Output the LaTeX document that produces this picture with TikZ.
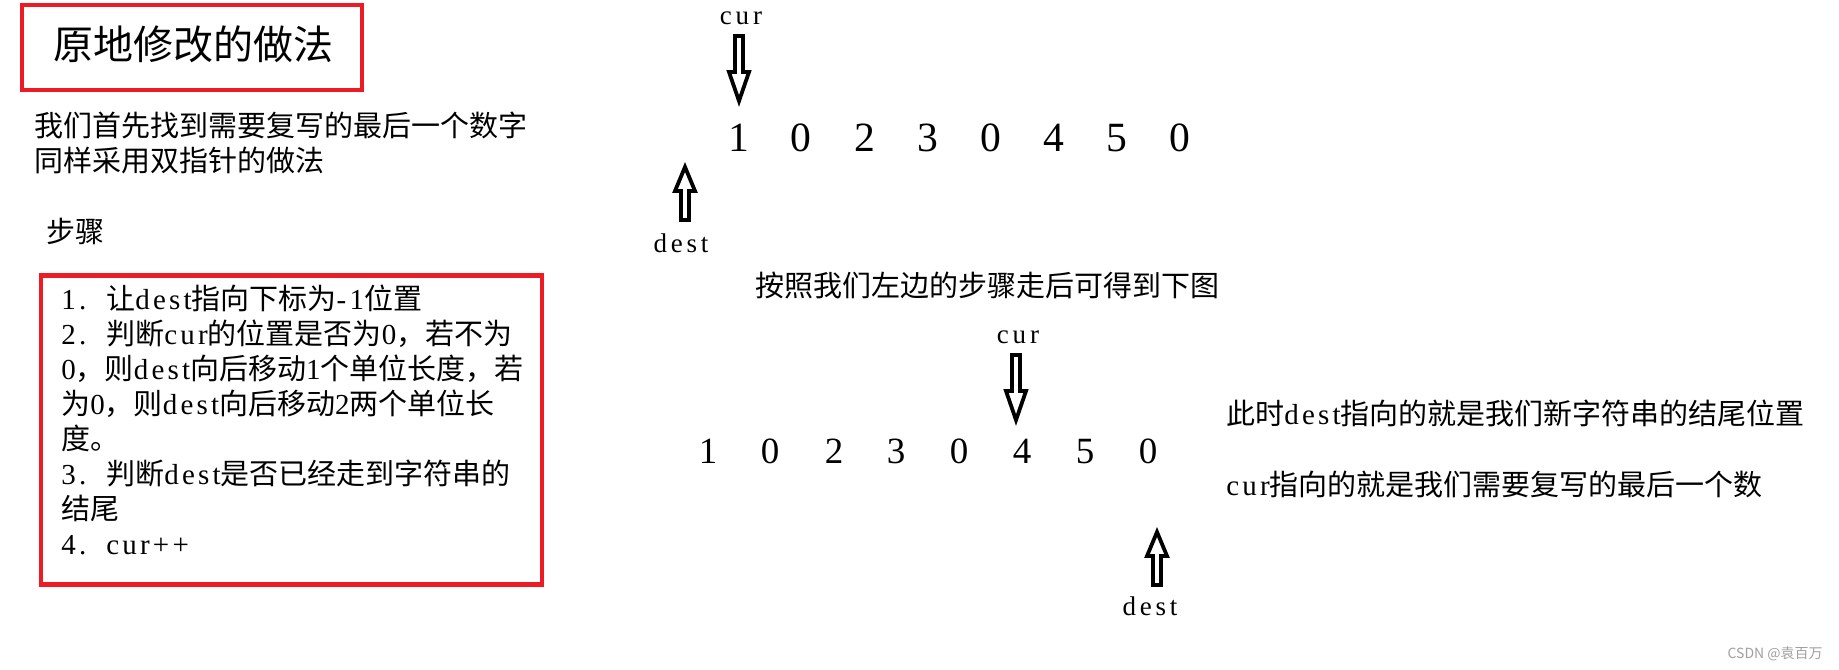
\documentclass[tikz,border=0pt]{standalone}
\usepackage{fontspec}
\setmainfont{Liberation Serif}
\newfontfamily\cjk{Noto Sans CJK SC}
\newfontfamily\lat[LetterSpace=11]{Liberation Serif}
\newfontfamily\labfont[LetterSpace=14]{Liberation Serif}
\newcommand\en[1]{{\lat #1}}
\definecolor{boxred}{HTML}{ED1C24}
\definecolor{wmgray}{HTML}{A0A0A0}
\tikzset{
  redbox/.style={draw=boxred, line width=2.3pt},
  body/.style={inner sep=0pt, anchor=base west, font=\cjk\fontsize{14.5}{17}\selectfont},
  titletext/.style={inner sep=0pt, anchor=base west, font=\cjk\fontsize{20}{24}\selectfont},
  digitA/.style={inner sep=0pt, anchor=base, font=\fontsize{20.8}{24}\selectfont},
  digitB/.style={inner sep=0pt, anchor=base, font=\fontsize{18.5}{22}\selectfont},
  ptrlabel/.style={inner sep=0pt, anchor=base, font=\labfont\fontsize{13.5}{16}\selectfont},
  ptr/.style={draw=black, line width=1.9pt, line join=miter, fill=white},
  downptr/.pic={\path[ptr] (0,0) -- (10,-29) -- (4,-29) -- (4,-65) -- (-4,-65) -- (-4,-29) -- (-10,-29) -- cycle;},
  upptr/.pic={\path[ptr] (0,0) -- (10,24) -- (4,24) -- (4,53) -- (-4,53) -- (-4,24) -- (-10,24) -- cycle;},
  watermark/.style={inner sep=0pt, anchor=base east, text=wmgray, font=\cjk\fontsize{7}{8}\selectfont}
}
\begin{document}
\begin{tikzpicture}[x=0.5pt,y=-0.5pt]
\path[use as bounding box, fill=white] (0,0) rectangle (1839,669);

% title
\draw[redbox] (22,5) rectangle (362,90);
\node[titletext] (title) at (53,59) {原地修改的做法};

% intro
\node[body] (intro1) at (34,136) {我们首先找到需要复写的最后一个数字};
\node[body] (intro2) at (34,171) {同样采用双指针的做法};
\node[body] (stepshead) at (46,242) {步骤};

% steps box
\draw[redbox] (41,275.5) rectangle (542,584.5);
\node[body] (n1) at (61,309) {\en{1.}};
\node[body] (s1) at (106,309) {让\en{dest}指向下标为\en{-1}位置};
\node[body] (n2) at (61,344) {\en{2.}};
\node[body] (s2) at (106,344) {判断\en{cur}的位置是否为\en{0}，若不为};
\node[body] (s3) at (61,379) {\en{0}，则\en{dest}向后移动\en{1}个单位长度，若};
\node[body] (s4) at (61,414) {为\en{0}，则\en{dest}向后移动\en{2}两个单位长};
\node[body] (s5) at (61,449) {度。};
\node[body] (n3) at (61,484) {\en{3.}};
\node[body] (s6) at (106,484) {判断\en{dest}是否已经走到字符串的};
\node[body] (s7) at (61,519) {结尾};
\node[body] (n4) at (61,554) {\en{4.}};
\node[body] (s8) at (106,554) {\en{cur++}};

% row 1
\node[ptrlabel] (curA) at (741,25) {cur};
\pic (curArrowA) at (739,101) {downptr};
\node[digitA] (a1) at (739,151) {1};
\node[digitA] (a2) at (801,151) {0};
\node[digitA] (a3) at (865,151) {2};
\node[digitA] (a4) at (928,151) {3};
\node[digitA] (a5) at (991,151) {0};
\node[digitA] (a6) at (1054,151) {4};
\node[digitA] (a7) at (1117,151) {5};
\node[digitA] (a8) at (1180,151) {0};
\pic (destArrowA) at (685,167) {upptr};
\node[ptrlabel] (destA) at (681,252) {dest};

% middle caption
\node[body] (middle) at (755,296) {按照我们左边的步骤走后可得到下图};

% row 2
\node[ptrlabel] (curB) at (1018,343) {cur};
\pic (curArrowB) at (1016,420) {downptr};
\node[digitB] (b1) at (708,463) {1};
\node[digitB] (b2) at (770,463) {0};
\node[digitB] (b3) at (834,463) {2};
\node[digitB] (b4) at (896,463) {3};
\node[digitB] (b5) at (959,463) {0};
\node[digitB] (b6) at (1022,463) {4};
\node[digitB] (b7) at (1085,463) {5};
\node[digitB] (b8) at (1148,463) {0};
\pic (destArrowB) at (1157,532) {upptr};
\node[ptrlabel] (destB) at (1150,615) {dest};

% right notes
\node[body] (note1) at (1226,424) {此时\en{dest}指向的就是我们新字符串的结尾位置};
\node[body] (note2) at (1226,495) {\en{cur}指向的就是我们需要复写的最后一个数};

% watermark
\node[watermark] (wm) at (1823,658) {CSDN @袁百万};
\end{tikzpicture}
\end{document}
